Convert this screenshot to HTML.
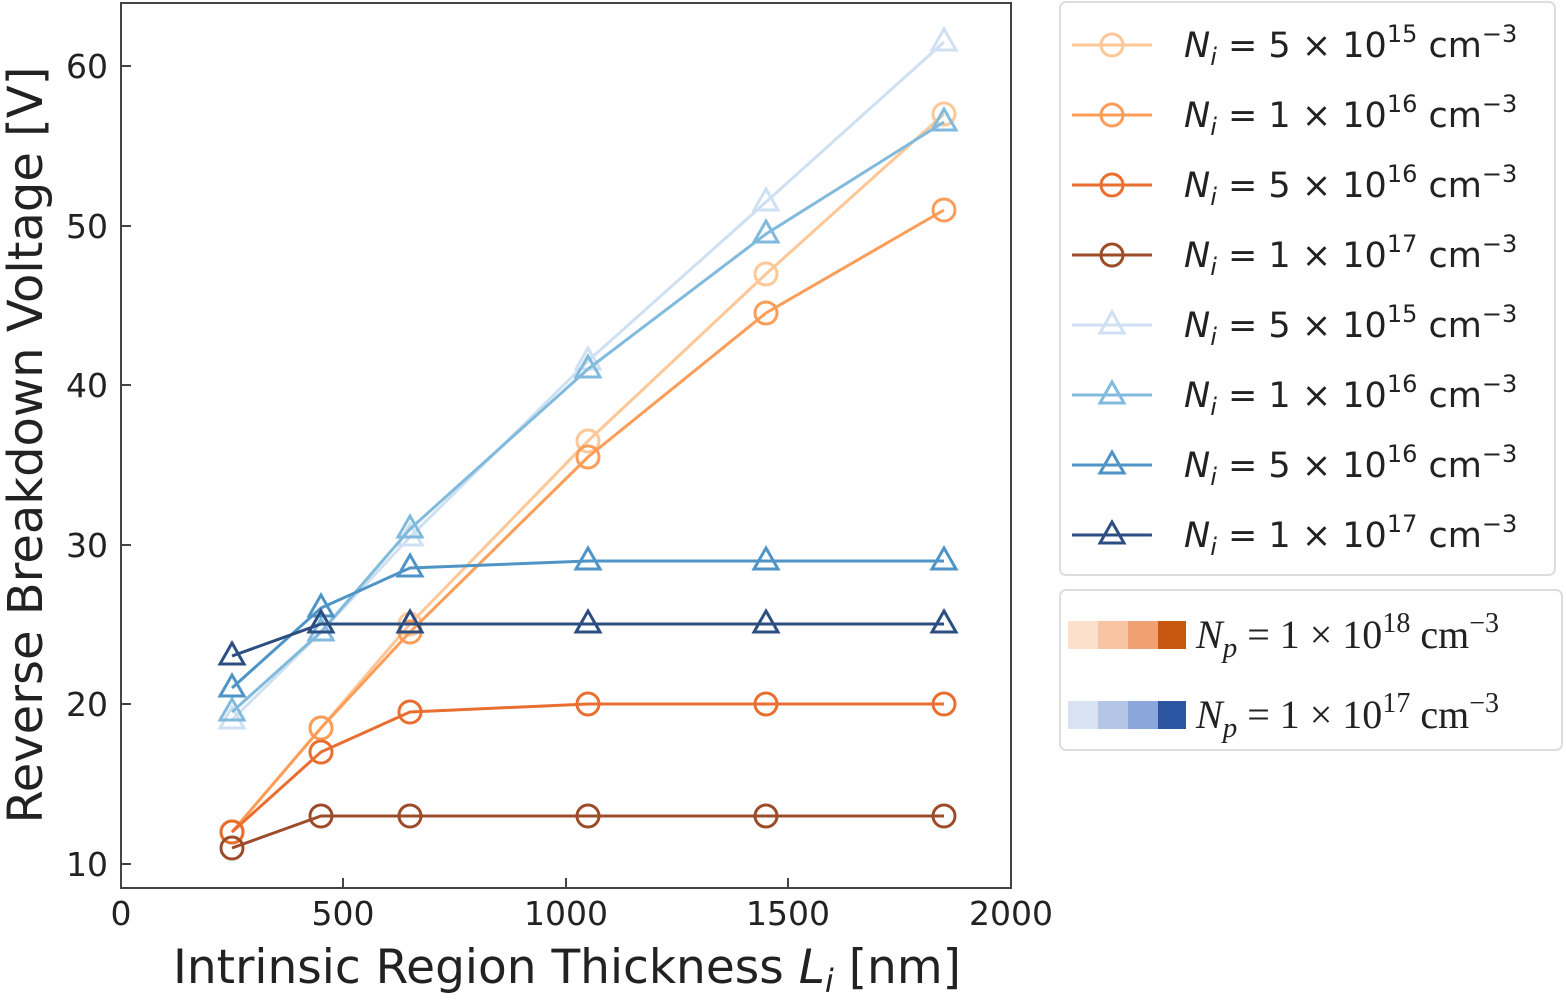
<!DOCTYPE html>
<html><head><meta charset="utf-8"><style>
body{margin:0;background:#fff;}
text{font-family:"DejaVu Sans","Liberation Sans",sans-serif;fill:#222;}
</style></head><body>
<svg width="1566" height="997" viewBox="0 0 1566 997" xmlns="http://www.w3.org/2000/svg">
<rect x="121" y="3" width="890" height="885" fill="none" stroke="#444" stroke-width="2"/>
<g stroke="#444" stroke-width="2">
<line x1="121" y1="888" x2="121" y2="878"/><line x1="343" y1="888" x2="343" y2="878"/><line x1="566" y1="888" x2="566" y2="878"/><line x1="788" y1="888" x2="788" y2="878"/><line x1="1011" y1="888" x2="1011" y2="878"/>
<line x1="121" y1="864" x2="131" y2="864"/><line x1="121" y1="704" x2="131" y2="704"/><line x1="121" y1="545" x2="131" y2="545"/><line x1="121" y1="385" x2="131" y2="385"/><line x1="121" y1="226" x2="131" y2="226"/><line x1="121" y1="66" x2="131" y2="66"/>
</g>
<g font-size="33" text-anchor="middle">
<text x="121" y="925">0</text><text x="343" y="925">500</text><text x="566" y="925">1000</text><text x="788" y="925">1500</text><text x="1011" y="925">2000</text>
</g>
<g font-size="33" text-anchor="end">
<text x="108" y="876">10</text><text x="108" y="716">20</text><text x="108" y="557">30</text><text x="108" y="397">40</text><text x="108" y="238">50</text><text x="108" y="78">60</text>
</g>
<text x="567" y="983" font-size="47" text-anchor="middle">Intrinsic Region Thickness <tspan font-style="italic">L</tspan><tspan font-style="italic" font-size="32" dy="9">i</tspan><tspan dy="-9"> [nm]</tspan></text>
<text transform="translate(42,445) rotate(-90)" font-size="48" text-anchor="middle">Reverse Breakdown Voltage [V]</text>

<g fill="none" stroke-width="3" opacity="0.85">
<g stroke="#fdbe85"><polyline points="232,832 321,728 410,624 588,441 766,274 944,114"/>
<circle cx="232" cy="832" r="11"/><circle cx="321" cy="728" r="11"/><circle cx="410" cy="624" r="11"/><circle cx="588" cy="441" r="11"/><circle cx="766" cy="274" r="11"/><circle cx="944" cy="114" r="11"/></g>
<g stroke="#fd8d3c"><polyline points="232,832 321,728 410,632 588,457 766,313 944,210"/>
<circle cx="232" cy="832" r="11"/><circle cx="321" cy="728" r="11"/><circle cx="410" cy="632" r="11"/><circle cx="588" cy="457" r="11"/><circle cx="766" cy="313" r="11"/><circle cx="944" cy="210" r="11"/></g>
<g stroke="#e6550d"><polyline points="232,832 321,752 410,712 588,704 766,704 944,704"/>
<circle cx="232" cy="832" r="11"/><circle cx="321" cy="752" r="11"/><circle cx="410" cy="712" r="11"/><circle cx="588" cy="704" r="11"/><circle cx="766" cy="704" r="11"/><circle cx="944" cy="704" r="11"/></g>
<g stroke="#8c2d04"><polyline points="232,848 321,816 410,816 588,816 766,816 944,816"/>
<circle cx="232" cy="848" r="11"/><circle cx="321" cy="816" r="11"/><circle cx="410" cy="816" r="11"/><circle cx="588" cy="816" r="11"/><circle cx="766" cy="816" r="11"/><circle cx="944" cy="816" r="11"/></g>

<g stroke="#c6dbef"><polyline points="232,720 321,632 410,537 588,361 766,202 944,42"/>
<polygon points="232,707 244,728 220,728"/><polygon points="321,619 333,640 309,640"/><polygon points="410,524 422,545 398,545"/><polygon points="588,348 600,369 576,369"/><polygon points="766,189 778,210 754,210"/><polygon points="944,29 956,50 932,50"/></g>
<g stroke="#6baed6"><polyline points="232,712 321,632 410,529 588,369 766,234 944,122"/>
<polygon points="232,699 244,720 220,720"/><polygon points="321,619 333,640 309,640"/><polygon points="410,516 422,537 398,537"/><polygon points="588,356 600,377 576,377"/><polygon points="766,221 778,242 754,242"/><polygon points="944,109 956,130 932,130"/></g>
<g stroke="#3182bd"><polyline points="232,688 321,608 410,568 588,561 766,561 944,561"/>
<polygon points="232,675 244,696 220,696"/><polygon points="321,595 333,616 309,616"/><polygon points="410,555 422,576 398,576"/><polygon points="588,548 600,569 576,569"/><polygon points="766,548 778,569 754,569"/><polygon points="944,548 956,569 932,569"/></g>
<g stroke="#08306b"><polyline points="232,656 321,624 410,624 588,624 766,624 944,624"/>
<polygon points="232,643 244,664 220,664"/><polygon points="321,611 333,632 309,632"/><polygon points="410,611 422,632 398,632"/><polygon points="588,611 600,632 576,632"/><polygon points="766,611 778,632 754,632"/><polygon points="944,611 956,632 932,632"/></g>
</g>

<rect x="1060" y="2" width="495" height="573" rx="6" fill="#fff" stroke="#ddd" stroke-width="2"/>
<g fill="none" stroke-width="3" opacity="0.85">
<g stroke="#fdbe85"><line x1="1072" y1="45" x2="1152" y2="45"/><circle cx="1112" cy="45" r="11"/></g>
<g stroke="#fd8d3c"><line x1="1072" y1="115" x2="1152" y2="115"/><circle cx="1112" cy="115" r="11"/></g>
<g stroke="#e6550d"><line x1="1072" y1="185" x2="1152" y2="185"/><circle cx="1112" cy="185" r="11"/></g>
<g stroke="#8c2d04"><line x1="1072" y1="255" x2="1152" y2="255"/><circle cx="1112" cy="255" r="11"/></g>
<g stroke="#c6dbef"><line x1="1072" y1="325" x2="1152" y2="325"/><polygon points="1112,312 1124,333 1100,333"/></g>
<g stroke="#6baed6"><line x1="1072" y1="395" x2="1152" y2="395"/><polygon points="1112,382 1124,403 1100,403"/></g>
<g stroke="#3182bd"><line x1="1072" y1="465" x2="1152" y2="465"/><polygon points="1112,452 1124,473 1100,473"/></g>
<g stroke="#08306b"><line x1="1072" y1="535" x2="1152" y2="535"/><polygon points="1112,522 1124,543 1100,543"/></g>
</g>
<g font-size="35">
<text x="1184" y="57"><tspan font-style="italic">N</tspan><tspan font-style="italic" font-size="24" dy="8">i</tspan><tspan dy="-8"> = 5 × 10</tspan><tspan font-size="24" dy="-15">15</tspan><tspan dy="15"> cm</tspan><tspan font-size="24" dy="-15">−3</tspan></text>
<text x="1184" y="127"><tspan font-style="italic">N</tspan><tspan font-style="italic" font-size="24" dy="8">i</tspan><tspan dy="-8"> = 1 × 10</tspan><tspan font-size="24" dy="-15">16</tspan><tspan dy="15"> cm</tspan><tspan font-size="24" dy="-15">−3</tspan></text>
<text x="1184" y="197"><tspan font-style="italic">N</tspan><tspan font-style="italic" font-size="24" dy="8">i</tspan><tspan dy="-8"> = 5 × 10</tspan><tspan font-size="24" dy="-15">16</tspan><tspan dy="15"> cm</tspan><tspan font-size="24" dy="-15">−3</tspan></text>
<text x="1184" y="267"><tspan font-style="italic">N</tspan><tspan font-style="italic" font-size="24" dy="8">i</tspan><tspan dy="-8"> = 1 × 10</tspan><tspan font-size="24" dy="-15">17</tspan><tspan dy="15"> cm</tspan><tspan font-size="24" dy="-15">−3</tspan></text>
<text x="1184" y="337"><tspan font-style="italic">N</tspan><tspan font-style="italic" font-size="24" dy="8">i</tspan><tspan dy="-8"> = 5 × 10</tspan><tspan font-size="24" dy="-15">15</tspan><tspan dy="15"> cm</tspan><tspan font-size="24" dy="-15">−3</tspan></text>
<text x="1184" y="407"><tspan font-style="italic">N</tspan><tspan font-style="italic" font-size="24" dy="8">i</tspan><tspan dy="-8"> = 1 × 10</tspan><tspan font-size="24" dy="-15">16</tspan><tspan dy="15"> cm</tspan><tspan font-size="24" dy="-15">−3</tspan></text>
<text x="1184" y="477"><tspan font-style="italic">N</tspan><tspan font-style="italic" font-size="24" dy="8">i</tspan><tspan dy="-8"> = 5 × 10</tspan><tspan font-size="24" dy="-15">16</tspan><tspan dy="15"> cm</tspan><tspan font-size="24" dy="-15">−3</tspan></text>
<text x="1184" y="547"><tspan font-style="italic">N</tspan><tspan font-style="italic" font-size="24" dy="8">i</tspan><tspan dy="-8"> = 1 × 10</tspan><tspan font-size="24" dy="-15">17</tspan><tspan dy="15"> cm</tspan><tspan font-size="24" dy="-15">−3</tspan></text>
</g>

<rect x="1060" y="590" width="502" height="160" rx="6" fill="#fff" stroke="#ddd" stroke-width="2"/>
<rect x="1068" y="621" width="30" height="28" fill="#fde0cc"/><rect x="1098" y="621" width="30" height="28" fill="#f9c4a1"/><rect x="1128" y="621" width="30" height="28" fill="#f0a071"/><rect x="1158" y="621" width="28" height="28" fill="#c8570f"/>
<rect x="1068" y="701" width="30" height="28" fill="#d9e2f3"/><rect x="1098" y="701" width="30" height="28" fill="#b3c6e6"/><rect x="1128" y="701" width="30" height="28" fill="#8aa6da"/><rect x="1158" y="701" width="28" height="28" fill="#2b55a0"/>
<text x="1196" y="648" font-size="40" style="font-family:'Liberation Serif',serif"><tspan font-style="italic">N</tspan><tspan font-style="italic" font-size="29" dy="9">p</tspan><tspan dy="-9"> = 1 × 10</tspan><tspan font-size="28" dy="-16">18</tspan><tspan dy="16"> cm</tspan><tspan font-size="28" dy="-16">−3</tspan></text>
<text x="1196" y="728" font-size="40" style="font-family:'Liberation Serif',serif"><tspan font-style="italic">N</tspan><tspan font-style="italic" font-size="29" dy="9">p</tspan><tspan dy="-9"> = 1 × 10</tspan><tspan font-size="28" dy="-16">17</tspan><tspan dy="16"> cm</tspan><tspan font-size="28" dy="-16">−3</tspan></text>
</svg>
</body></html>
